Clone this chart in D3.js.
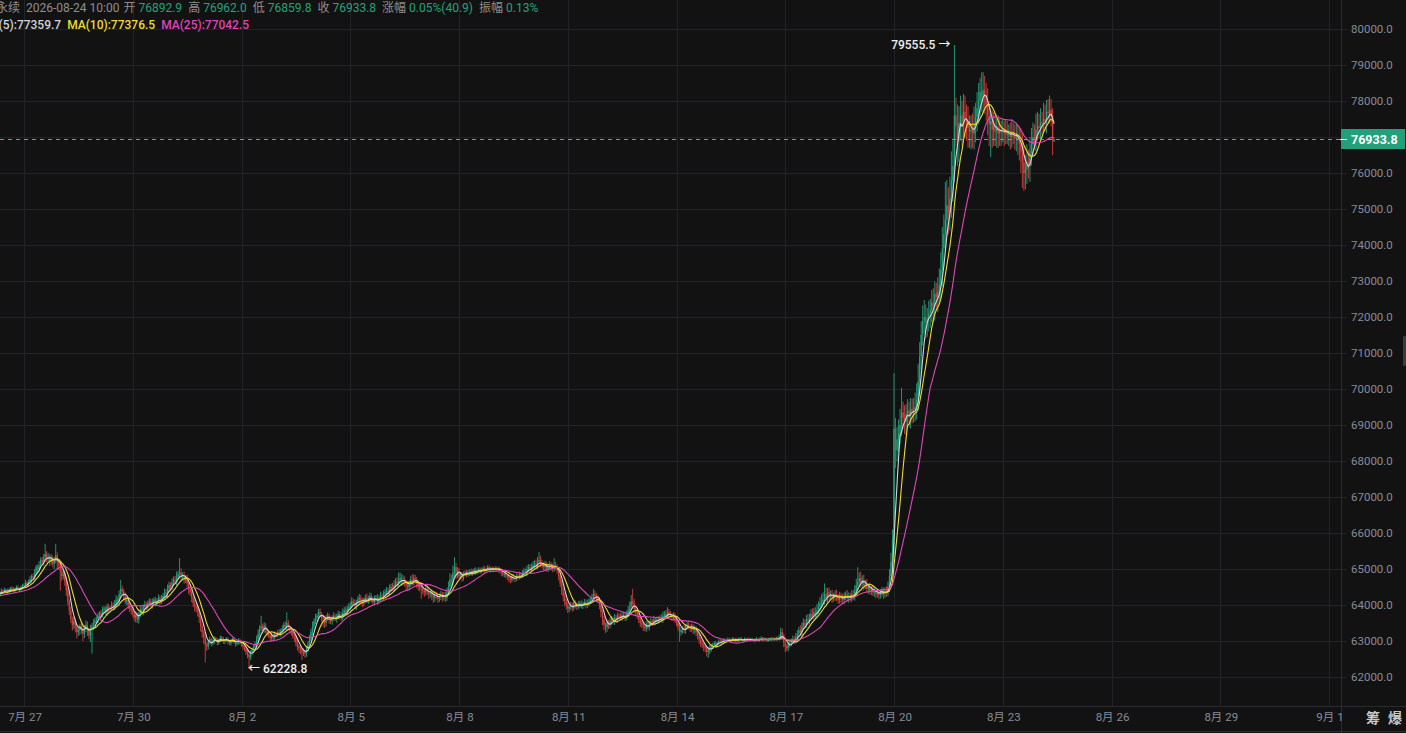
<!DOCTYPE html>
<html>
<head>
<meta charset="utf-8">
<title>K线 1H</title>
<script src="https://d3js.org/d3.v7.min.js"></script>
<style>
  body { margin: 0; background: #121212; overflow: hidden; font-family: Roboto, "Noto Sans CJK SC", sans-serif; }
  svg { display: block; }
</style>
</head>
<body>
<svg id="chart"></svg>
<script>
// hourly closes, first candle 2026-07-25 08:00, one row per day
const closes = [
  64180,64220,64150,64120,64200,64260,64230,64180,64240,64300,64270,64210,64250,64320,64290,64240,64280,64350,64310,64260,64300,64360,64330,64290,
  64340,64400,64370,64430,64390,64350,64420,64470,64440,64380,64450,64500,64460,64420,64480,64540,
  // 7/27
  64560,64620,64580,64650,64720,64800,64760,64900,65050,64980,65100,65250,65180,65300,65420,65280,65350,65200,65300,65150,65250,65380,65200,65100,
  64950,64800,64880,64650,64400,64100,63850,63600,63450,63550,63380,63250,63300,63420,63350,63200,63380,63450,63300,63150,63350,63420,63500,63560,
  63620,63700,63780,63720,63850,63900,63820,63950,63880,63920,64000,63950,64050,64150,64100,64300,64450,64380,64250,64100,64150,63980,63900,63850,
  // 7/30
  63780,63650,63720,63600,63750,63880,63820,63950,64020,63950,64050,64100,64000,64080,64150,64050,64120,64200,64100,64180,64250,64350,64300,64450,
  64550,64480,64620,64700,64650,64780,64850,64900,64780,64820,64700,64750,64600,64450,64350,64200,64050,63950,63900,63800,63650,63400,63250,63100,
  62900,62850,62980,63050,62950,63000,63080,63020,62960,63030,63100,63050,62980,63020,63060,62990,62940,63010,63050,62980,62920,62970,63030,62960,
  // 8/2
  62900,62850,62780,62700,62620,62550,62680,62750,62850,62900,63050,63200,63350,63400,63300,63420,63300,63200,63150,63080,63150,63100,63200,63180,
  63250,63200,63300,63350,63450,63400,63500,63380,63300,63250,63150,63100,62950,62850,62800,62750,62680,62700,62650,62780,62900,63050,63250,63400,
  63550,63650,63700,63800,63750,63650,63600,63500,63650,63700,63600,63550,63650,63700,63620,63680,63750,63700,63650,63780,63850,63800,63900,63950,
  // 8/5
  64000,64100,64050,63980,64080,64150,64200,64100,64050,64150,64200,64120,64180,64250,64150,64080,64150,64200,64100,64180,64250,64200,64300,64350,
  64400,64350,64450,64500,64480,64550,64650,64600,64700,64750,64650,64700,64600,64550,64500,64600,64700,64650,64750,64700,64600,64500,64550,64450,
  64400,64350,64450,64380,64300,64350,64250,64200,64300,64250,64180,64250,64300,64220,64280,64200,64350,64500,64700,64650,64900,65050,64850,64950,
  // 8/8
  64800,64850,64750,64880,64900,64850,64920,64880,64950,64900,64980,64920,64950,65000,64940,64980,65020,64960,65000,65050,64980,65020,64970,65000,
  65020,64980,65000,64950,64900,64850,64900,64820,64780,64750,64700,64800,64750,64720,64800,64780,64850,64820,64900,64950,64900,65000,65050,65000,
  65050,65100,65150,65080,65200,65250,65150,65100,65050,65120,65000,65050,65100,65050,65000,65100,65050,64950,64800,64600,64400,64250,64100,64000,
  // 8/11
  63900,63950,64000,63920,64050,64000,63950,64020,64050,63980,64030,64080,64000,64050,64100,64150,64200,64300,64250,64200,64150,64000,63800,63600,
  63450,63380,63500,63450,63550,63600,63550,63650,63600,63700,63680,63650,63720,63700,63650,63750,63850,63950,64100,64050,63900,63800,63700,63600,
  63500,63450,63400,63350,63450,63400,63500,63550,63500,63600,63550,63600,63580,63650,63600,63700,63750,63700,63800,63750,63700,63650,63700,63600,
  // 8/14
  63500,63400,63250,63300,63350,63300,63400,63450,63400,63350,63400,63300,63350,63250,63150,63050,62950,62900,62850,62800,62700,62750,62800,62850,
  62900,62950,62880,62950,63000,62980,63020,62990,63040,63010,63050,63000,63030,63060,63020,63050,63000,63040,63070,63030,63010,63050,63030,63060,
  63020,63050,63030,63000,63040,63060,63020,63050,63080,63030,63060,63040,63010,63050,63070,63030,63060,63040,63080,63050,63100,63250,63150,62950,
  // 8/17
  62850,62800,62900,62950,63000,63050,63000,63100,63200,63300,63250,63400,63500,63450,63600,63550,63650,63750,63700,63800,63750,63850,63950,64050,
  64100,64150,64300,64200,64350,64250,64300,64200,64250,64300,64200,64150,64250,64200,64150,64250,64300,64200,64250,64200,64300,64250,64400,64550,
  64650,64750,64600,64700,64550,64600,64450,64500,64400,64450,64350,64400,64300,64350,64280,64350,64400,64300,64400,64350,64500,64800,65200,65800,
  // 8/20
  68900,68300,68600,68750,69000,69350,69200,69100,69300,69400,69250,69450,69350,69400,69500,69700,70200,70900,71500,71900,72000,71850,71950,72100,
  72200,72400,72300,72650,72550,72700,72900,73300,73900,74300,74700,75100,74900,75300,75800,76200,77600,77300,76900,77400,77600,77300,77700,77500,
  77400,77250,77150,77200,77100,77350,77550,77800,78000,78250,78100,78300,78150,77900,77600,77350,77450,77200,77300,77150,77250,77100,77200,77150,
  // 8/23
  77200,77100,77150,77050,77100,77000,77150,77050,76950,77050,76900,76800,76600,76300,76000,76100,76300,76200,76600,76800,77000,76950,77200,77300,
  77250,77400,77350,77500,77450,77700,77650,77750,77600,76892.9,76933.8
];

// upper / lower shadow beyond the body, in units of 10
const wickUp = [
  3,5,2,4,6,3,2,5,4,3,6,2,4,5,3,2,6,4,3,5,2,4,3,5,
  4,6,3,5,2,7,4,3,5,6,3,4,5,3,6,4,
  5,8,4,6,9,5,7,10,6,8,12,7,9,11,28,8,10,6,12,7,9,32,8,6,
  7,10,6,8,12,9,6,10,8,12,7,9,11,6,10,8,7,12,9,6,10,8,11,9,
  6,9,5,8,10,7,6,9,8,5,10,7,9,12,8,11,25,9,7,10,6,8,9,6,
  8,5,10,7,6,9,8,7,10,6,8,9,7,10,6,8,7,9,6,10,8,11,9,12,
  10,8,12,9,11,15,10,40,12,9,11,8,10,7,9,8,6,10,7,9,8,6,7,5,
  8,6,5,7,4,6,5,4,6,3,5,4,6,3,5,4,3,5,4,6,3,4,5,3,
  5,4,6,3,5,4,7,5,6,8,10,12,9,30,8,10,7,6,9,5,8,6,7,5,
  6,8,5,9,7,10,30,8,6,9,5,7,6,8,5,7,6,9,5,8,10,12,9,14,
  8,10,7,9,11,6,8,10,7,9,6,8,7,10,6,8,9,7,10,12,9,11,8,10,
  9,12,8,10,7,9,11,8,10,6,9,12,8,10,7,9,11,8,10,9,12,8,10,9,
  10,8,12,9,11,14,10,12,20,15,11,13,9,10,12,8,11,15,10,9,8,10,7,9,
  8,6,9,7,10,6,8,7,9,6,8,7,10,6,8,9,12,15,18,14,20,28,12,10,
  8,6,7,5,6,8,5,7,6,4,5,7,6,5,4,6,5,7,4,6,5,4,6,5,
  6,5,7,4,6,5,8,6,5,7,6,4,6,5,7,6,8,5,7,9,6,10,8,9,
  10,12,9,11,14,22,12,10,9,11,8,10,12,9,11,20,10,8,9,7,10,8,9,7,
  8,6,9,7,10,8,6,9,7,8,6,9,7,10,8,9,11,15,9,8,7,6,8,7,
  9,7,10,8,11,9,7,10,8,9,7,10,8,9,11,10,12,14,18,35,12,10,9,8,
  8,7,9,6,10,8,7,9,6,10,7,8,9,6,10,12,8,11,14,9,8,7,10,8,
  9,7,10,8,6,9,7,10,8,6,9,7,8,6,9,7,6,8,5,7,6,8,9,7,
  5,4,6,3,5,4,3,5,4,3,5,4,3,5,4,3,4,5,3,4,3,5,4,3,
  4,3,5,3,4,5,3,4,5,3,4,3,5,4,3,4,5,3,4,5,8,12,10,6,
  7,6,8,9,7,10,8,12,10,9,14,11,13,10,12,15,11,13,16,12,14,18,15,17,
  20,20,30,18,12,14,10,12,9,11,13,10,12,9,11,10,8,12,10,9,11,12,15,18,
  40,15,18,12,14,10,12,9,11,8,10,9,7,10,8,9,11,8,10,12,15,20,25,30,
  154,30,35,40,45,68,30,35,28,32,25,30,28,35,40,45,50,40,38,42,47,35,30,35,
  30,35,40,34,30,40,45,50,60,55,105,70,50,60,80,70,195.55,50,60,45,55,40,50,45,
  40,45,35,40,45,50,40,45,50,40,55,50,40,35,45,40,35,30,40,35,30,35,30,25,
  30,25,35,30,25,30,35,25,30,35,30,40,45,50,45,40,50,35,40,45,40,35,45,40,
  35,40,30,45,40,33,35,40,30,20,2.82
];
const wickDn = [
  4,3,5,2,4,3,6,2,3,5,4,3,5,2,4,3,5,3,4,2,5,3,4,3,
  5,3,6,4,3,5,2,4,6,3,5,4,3,6,4,5,
  6,4,8,5,7,9,5,6,8,10,6,9,7,8,10,9,7,12,8,10,15,9,22,12,
  55,14,9,12,15,11,13,10,16,12,14,18,11,13,15,20,12,14,16,10,18,70,12,10,
  9,12,8,11,7,10,9,12,8,10,7,11,9,8,10,7,9,12,10,8,11,9,10,12,
  11,9,14,10,12,8,9,11,7,10,8,9,7,10,8,9,7,8,10,7,9,8,10,9,
  8,10,7,9,8,10,9,7,12,10,11,9,12,14,10,12,11,13,10,12,15,14,16,18,
  50,12,9,8,10,7,9,6,8,7,5,8,6,7,5,8,6,7,5,6,8,5,7,6,
  6,8,7,9,10,32.12,8,7,9,6,8,7,9,8,10,7,9,8,6,9,7,8,6,7,
  8,7,9,6,8,7,10,9,8,10,9,12,10,11,13,12,21,10,12,9,8,10,7,9,
  10,8,12,9,7,11,20,14,10,9,12,8,10,9,7,11,8,10,9,7,10,8,9,7,
  8,10,7,9,12,8,10,9,11,8,10,7,9,11,8,10,9,7,10,8,9,11,8,10,
  9,11,8,10,9,12,8,10,9,11,12,10,9,13,11,10,9,12,10,11,13,10,12,28,
  10,12,9,11,13,10,12,14,11,9,12,10,11,13,10,12,9,8,10,12,9,11,14,10,
  12,9,10,8,7,9,6,8,7,9,6,8,7,6,8,5,7,6,5,7,6,8,5,6,
  7,6,8,7,9,6,8,7,9,12,10,8,7,9,6,8,7,9,6,8,7,9,8,7,
  9,8,10,7,9,8,10,9,8,10,7,9,8,10,9,7,9,8,11,10,12,15,14,13,
  12,10,9,11,8,10,9,7,10,8,9,7,10,8,9,7,8,10,9,11,10,12,14,16,
  15,16,13,12,10,11,9,10,8,9,10,8,9,7,10,8,9,11,8,10,12,11,9,10,
  11,9,12,8,10,9,11,8,9,7,10,8,9,7,8,10,7,9,8,10,7,9,8,10,
  9,11,27,10,9,8,10,9,8,10,9,11,10,12,11,13,12,10,14,11,13,17,12,10,
  8,6,7,5,6,4,5,6,4,5,3,4,5,3,4,5,3,4,5,3,4,3,5,4,
  3,4,5,3,4,3,5,4,3,4,5,3,4,3,5,4,3,4,5,3,4,5,8,12,
  16,8,9,7,10,8,9,7,10,8,9,11,8,10,9,12,8,10,9,11,10,12,9,11,
  12,10,14,11,13,12,10,14,11,13,10,12,11,14,10,13,12,11,14,10,12,11,13,10,
  12,14,11,13,15,10,12,14,11,13,10,12,11,9,12,10,11,13,10,12,11,14,12,15,
  40,50,30,35,28,32,30,35,38,30,32,35,30,28,30,35,30,40,35,30,35,45,40,35,
  40,35,45,40,38,42,35,40,45,50,40,45,60,50,55,60,45,55,70,60,50,55,45,50,
  50,55,45,50,40,45,50,40,45,50,40,45,50,45,55,60,91,50,45,40,45,40,35,40,
  30,35,30,25,30,35,30,25,30,35,40,45,60,72,50,45,40,35,45,40,35,30,35,30,
  30,35,30,25,30,35,30,25,30,40,3.31
];

const maPeriods = [5, 10, 25];
const maShown = [77359.7, 77376.5, 77042.5];   // legend values as printed
const priceTicks = [62000,63000,64000,65000,66000,67000,68000,69000,70000,71000,72000,
                    73000,74000,75000,76000,77000,78000,79000,80000];
const dateTicks = ["2026-07-27","2026-07-30","2026-08-02","2026-08-05","2026-08-08","2026-08-11",
                   "2026-08-14","2026-08-17","2026-08-20","2026-08-23","2026-08-26","2026-08-29","2026-09-01"];
const dateLabels = ["7月 27","7月 30","8月 2","8月 5","8月 8","8月 11","8月 14","8月 17","8月 20","8月 23","8月 26","8月 29","9月 1"];

const W = 1406, H = 733;
const plotR = 1341, plotB = 706;
const UP = "#23a27c", DOWN = "#d53e3c";
const MA_COLORS = ["#d4d4d4", "#eedc2f", "#dc48b8"];
const GRID = "#222326", AXIS_TXT = "#858c9c", LABEL = "#8e8e8e";

const parseDay = d3.timeParse("%Y-%m-%d");
const t0 = new Date(2026, 6, 25, 8);
const candles = closes.map((c, i) => {
  const o = i ? closes[i - 1] : c;
  return {
    t: d3.timeHour.offset(t0, i), o, c,
    h: Math.max(o, c) + wickUp[i] * 10,
    l: Math.min(o, c) - wickDn[i] * 10
  };
});
const last = candles[candles.length - 1];

const x = d3.scaleTime()
  .domain([parseDay(dateTicks[0]), parseDay(dateTicks[dateTicks.length - 1])])
  .range([24, 1329]);
const y = d3.scaleLinear().domain([62000, 80000]).range([677, 29]);
const ly = Math.round(y(last.c)) + 0.5;

const svg = d3.select("#chart").attr("width", W).attr("height", H);
svg.append("rect").attr("width", W).attr("height", H).attr("fill", "#121212");

// grid
svg.append("g").selectAll("line").data(priceTicks).join("line")
  .attr("x1", 0).attr("x2", plotR + 6)
  .attr("y1", d => Math.round(y(d)) + 0.5).attr("y2", d => Math.round(y(d)) + 0.5)
  .attr("stroke", GRID);
svg.append("g").selectAll("line").data(dateTicks).join("line")
  .attr("x1", d => Math.round(x(parseDay(d))) + 0.5).attr("x2", d => Math.round(x(parseDay(d))) + 0.5)
  .attr("y1", 0).attr("y2", plotB)
  .attr("stroke", GRID);

// frame lines
svg.append("line").attr("x1", plotR + 0.5).attr("x2", plotR + 0.5).attr("y1", 0).attr("y2", H)
  .attr("stroke", "#2a2b2f");
svg.append("line").attr("x1", 0).attr("x2", W).attr("y1", plotB + 0.5).attr("y2", plotB + 0.5)
  .attr("stroke", "#2a2b2f");
svg.append("line").attr("x1", 0).attr("x2", W).attr("y1", H - 1.5).attr("y2", H - 1.5)
  .attr("stroke", "#2e2f33");

// y axis labels (the one under the last-price tag is hidden, as in the app)
svg.append("g").selectAll("text").data(priceTicks.filter(d => Math.abs(y(d) - ly) > 14)).join("text")
  .attr("x", 1351).attr("y", d => y(d) + 4)
  .attr("fill", AXIS_TXT).attr("font-size", 11.5)
  .text(d => d3.format(".1f")(d));

// x axis labels
svg.append("g").selectAll("text").data(dateTicks).join("text")
  .attr("x", d => x(parseDay(d)) + 1).attr("y", 721)
  .attr("text-anchor", "middle")
  .attr("fill", AXIS_TXT).attr("font-size", 11.5)
  .text((d, i) => dateLabels[i]);

// plot area
svg.append("clipPath").attr("id", "clip")
  .append("rect").attr("width", plotR).attr("height", plotB);
const plot = svg.append("g").attr("clip-path", "url(#clip)");

const bars = plot.append("g").selectAll("g").data(candles).join("g")
  .attr("stroke", d => d.c >= d.o ? UP : DOWN)
  .attr("fill", d => d.c >= d.o ? UP : DOWN);
bars.append("line")
  .attr("x1", d => x(d.t)).attr("x2", d => x(d.t))
  .attr("y1", d => y(d.h)).attr("y2", d => y(d.l))
  .attr("stroke-width", 0.9);
bars.append("rect")
  .attr("x", d => x(d.t) - 0.65).attr("width", 1.3)
  .attr("y", d => y(Math.max(d.o, d.c)))
  .attr("height", d => Math.max(0.8, Math.abs(y(d.o) - y(d.c))))
  .attr("stroke", "none");

// moving averages
maPeriods.forEach((n, k) => {
  const ma = closes.map((_, i) => i < n - 1 ? null : d3.mean(closes.slice(i - n + 1, i + 1)));
  plot.append("path")
    .datum(ma)
    .attr("fill", "none").attr("stroke", MA_COLORS[k]).attr("stroke-width", 1.1)
    .attr("d", d3.line().defined(v => v != null).x((v, i) => x(candles[i].t)).y(v => y(v)));
});

// high / low markers
const visible = candles.filter(d => x(d.t) >= 0);
const hi = d3.greatest(visible, d => d.h);
const lo = d3.least(visible, d => d.l);
plot.append("text")
  .attr("x", x(hi.t) - 4).attr("y", y(hi.h) + 4)
  .attr("text-anchor", "end").attr("fill", "#f0f0f0").attr("font-size", 12).attr("font-weight", 500)
  .text(d3.format(".1f")(hi.h) + " →");
plot.append("text")
  .attr("x", x(lo.t) - 1).attr("y", y(lo.l) + 4)
  .attr("fill", "#f0f0f0").attr("font-size", 12).attr("font-weight", 500)
  .text("← " + d3.format(".1f")(lo.l));

// last price line and tag
svg.append("line")
  .attr("x1", 0).attr("x2", plotR).attr("y1", ly).attr("y2", ly)
  .attr("stroke", "#2cc295").attr("stroke-width", 1.1).attr("stroke-dasharray", "4,4");
svg.append("rect")
  .attr("x", plotR).attr("y", ly - 10.5).attr("width", W - plotR - 1).attr("height", 20)
  .attr("fill", "#249f7b");
svg.append("line")
  .attr("x1", plotR - 1).attr("x2", plotR + 6).attr("y1", ly).attr("y2", ly)
  .attr("stroke", "#ffffff");
svg.append("text")
  .attr("x", 1351).attr("y", ly + 4.5)
  .attr("fill", "#ffffff").attr("font-size", 12.5).attr("font-weight", 700)
  .text(d3.format(".1f")(last.c));

// header
const fmt = d3.format(".1f");
const chg = last.c - last.o;
const info = [
  ["永续", LABEL, 0], ["2026-08-24 10:00", LABEL, 6],
  ["开", LABEL, 4], [fmt(last.o), UP, 3],
  ["高", LABEL, 6], [fmt(last.h), UP, 3],
  ["低", LABEL, 6], [fmt(last.l), UP, 3],
  ["收", LABEL, 6], [fmt(last.c), UP, 3],
  ["涨幅", LABEL, 6], [(chg / last.o * 100).toFixed(2) + "%(" + fmt(chg) + ")", UP, 3],
  ["振幅", LABEL, 6], [((last.h - last.l) / last.o * 100).toFixed(2) + "%", UP, 3]
];
const row1 = svg.append("text").attr("x", -4).attr("y", 11.5).attr("font-size", 12);
info.forEach(([s, c, gap]) => row1.append("tspan").attr("fill", c).attr("dx", gap).text(s));

const row2 = svg.append("text").attr("x", -20).attr("y", 28.5).attr("font-size", 12).attr("font-weight", 500);
maPeriods.forEach((n, k) => row2.append("tspan").attr("fill", MA_COLORS[k]).attr("dx", k ? 6 : 0)
  .text(`MA(${n}):${fmt(maShown[k])}`));

// bottom right tools
svg.append("text").attr("x", 1373).attr("y", 723).attr("text-anchor", "middle")
  .attr("fill", "#c9c9c9").attr("font-size", 14).attr("font-weight", 700).text("筹");
svg.append("text").attr("x", 1395).attr("y", 723).attr("text-anchor", "middle")
  .attr("fill", "#c9c9c9").attr("font-size", 14).attr("font-weight", 700).text("爆");
svg.append("rect").attr("x", 1403).attr("y", 336).attr("width", 3).attr("height", 30)
  .attr("rx", 1).attr("fill", "#3a3b3f");
</script>
</body>
</html>
